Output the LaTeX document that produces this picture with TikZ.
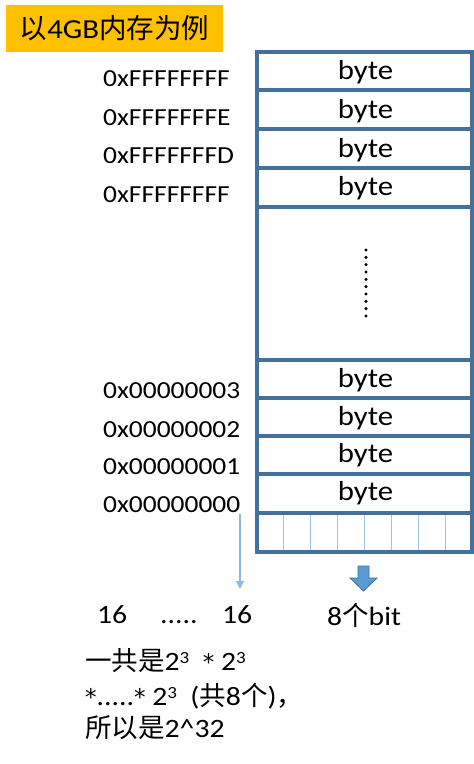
\documentclass[tikz,border=0pt]{standalone}
\usepackage{fontspec}
\setmainfont{Carlito}[FakeStretch=1.12]
\newfontfamily\cjk{Noto Sans CJK SC}
\newfontfamily\astfont{DejaVu Sans}
\usetikzlibrary{arrows.meta}
\definecolor{boxline}{HTML}{41719C}
\definecolor{gold}{HTML}{FFC000}
\definecolor{arrowblue}{HTML}{5B9BD5}
\definecolor{thinblue}{HTML}{9DC3E6}
\newcommand{\bigast}{{\astfont\fontsize{23}{23}\selectfont *}}
\newcommand{\supthree}{\raisebox{6.5pt}{\fontsize{17}{17}\selectfont 3}}
\begin{document}
\begin{tikzpicture}[x=1pt,y=-1pt,
  cell/.style={draw=boxline, line width=3.5pt, fill=white, minimum width=215pt, inner sep=0pt, outer sep=0pt},
  addr/.style={anchor=base west, inner sep=0pt, font=\fontsize{24.5}{24.5}\selectfont},
  bytetxt/.style={anchor=base, inner sep=0pt, font=\fontsize{27.5}{27.5}\selectfont},
  btxt/.style={anchor=base west, inner sep=0pt, font=\fontsize{26.5}{26.5}\selectfont},
  divider/.style={draw=thinblue, line width=1pt},
  thinarrow/.style={draw=arrowblue!70, line width=1.2pt, -{Triangle[width=8pt,length=8pt]}},
  blockarrow/.style={fill=arrowblue, draw=boxline, line width=0.8pt}
]
\useasboundingbox (0,0) rectangle (474,764);
% title
\node[fill=gold, minimum width=217pt, minimum height=47pt, inner sep=0pt,
      font=\fontsize{27.5}{27.5}\selectfont] (title) at (114.5,28.5) {{\cjk 以}4GB{\cjk 内存为例}};
% memory cells
\node[cell, minimum height=38pt] (c1) at (364.5,71) {};
\node[cell, minimum height=39pt] (c2) at (364.5,109.5) {};
\node[cell, minimum height=39pt] (c3) at (364.5,148.5) {};
\node[cell, minimum height=39pt] (c4) at (364.5,187.5) {};
\node[cell, minimum height=153pt] (big) at (364.5,283.5) {};
\node[cell, minimum height=38pt] (c5) at (364.5,379) {};
\node[cell, minimum height=38pt] (c6) at (364.5,417) {};
\node[cell, minimum height=38pt] (c7) at (364.5,455) {};
\node[cell, minimum height=39pt] (c8) at (364.5,493.5) {};
\node[cell, minimum height=39pt] (bits) at (364.5,532.5) {};
\foreach \i in {1,...,7}
  \draw[divider] (257+\i*26.875,514.8) -- (257+\i*26.875,550.2);
% byte texts
\node[bytetxt] (t1) at (365.5,79) {byte};
\node[bytetxt] (t2) at (365.5,118) {byte};
\node[bytetxt] (t3) at (365.5,157) {byte};
\node[bytetxt] (t4) at (365.5,195) {byte};
\node[bytetxt] (t5) at (365.5,387) {byte};
\node[bytetxt] (t6) at (365.5,425) {byte};
\node[bytetxt] (t7) at (365.5,462) {byte};
\node[bytetxt] (t8) at (365.5,500) {byte};
% vertical dots
\foreach \k in {0,...,9}
  \fill (366,250+\k*7.33) circle (1.7pt);
% addresses
\node[addr] (a1) at (103,86.7) {0xFFFFFFFF};
\node[addr] (a2) at (103,125) {0xFFFFFFFE};
\node[addr] (a3) at (103,163) {0xFFFFFFFD};
\node[addr] (a4) at (103,202) {0xFFFFFFFF};
\node[addr] (a5) at (103,398) {0x00000003};
\node[addr] (a6) at (103,437) {0x00000002};
\node[addr] (a7) at (103,474) {0x00000001};
\node[addr] (a8) at (103,512) {0x00000000};
% thin arrow
\coordinate (ta) at (240,514);
\coordinate (tb) at (240,589);
\draw[thinarrow] (ta) -- (tb);
% block arrow
\draw[blockarrow] (358,566) -- (369,566) -- (369,578) -- (377,578) -- (363.5,591) -- (350,578) -- (358,578) -- cycle;
% bottom texts
\node[btxt] (n1) at (97,623) {16};
\node[btxt] (dots) at (160,623) {.....};
\node[btxt] (n2) at (222,623) {16};
\node[btxt] (bit) at (327,625) {8{\cjk 个}bit};
\node[btxt] (l1) at (85,670) {{\cjk 一共是}2\supthree\ \ \bigast\ 2\supthree};
\node[btxt] (l2) at (85,705) {\bigast.....\bigast\ 2\supthree\ \ ({\cjk 共}8{\cjk 个}){\cjk ，}};
\node[btxt] (l3) at (85,737) {{\cjk 所以是}2\textasciicircum 32};
\end{tikzpicture}
\end{document}
